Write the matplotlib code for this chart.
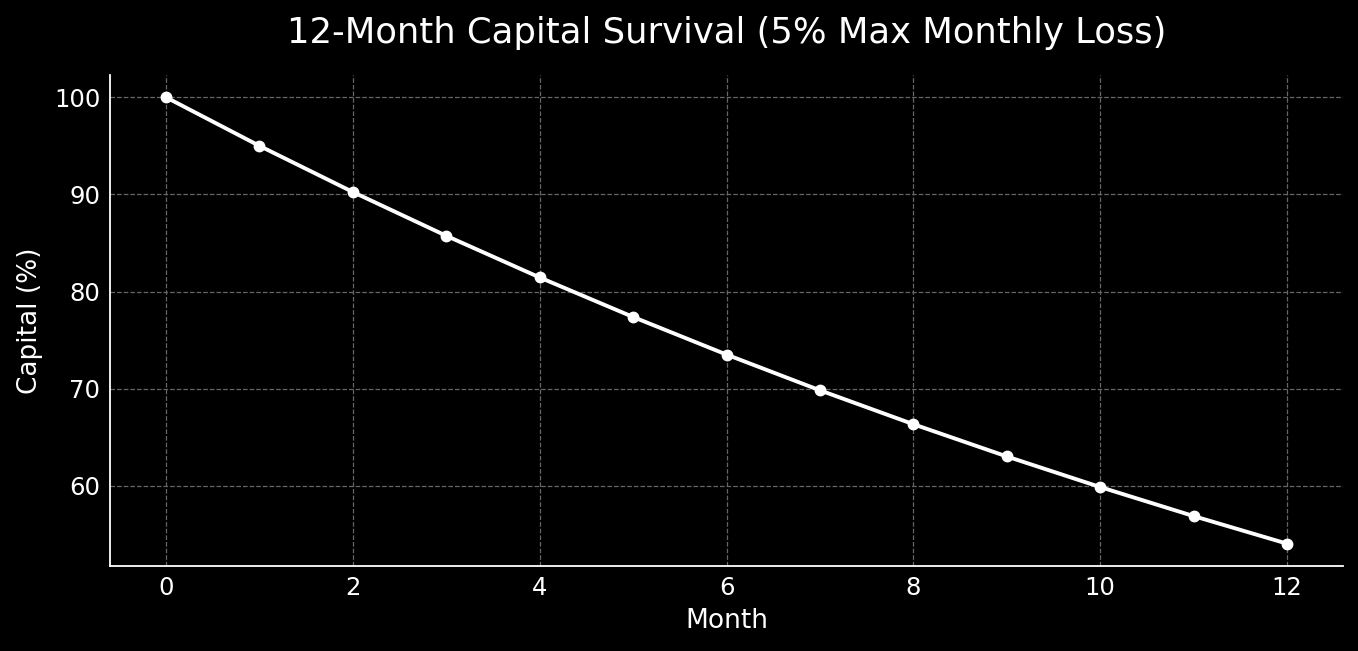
import matplotlib
matplotlib.use("Agg")
import matplotlib.pyplot as plt

months = [0, 1, 2, 3, 4, 5, 6, 7, 8, 9, 10, 11, 12]
capital = [100.0, 95.0, 90.25, 85.74, 81.45, 77.38, 73.51, 69.83, 66.34, 63.02, 59.87, 56.88, 54.04]

plt.style.use("dark_background")
fig = plt.figure(figsize=(13.58, 6.51), dpi=100)
ax = fig.add_axes([0.081, 0.1306, 0.908, 0.7542])
ax.plot(months, capital, color="white", linewidth=2.8, marker="o", markersize=7.5)
ax.set_title("12-Month Capital Survival (5% Max Monthly Loss)", fontsize=25.5, pad=23)
ax.set_xlabel("Month", fontsize=19, labelpad=6)
ax.set_ylabel("Capital (%)", fontsize=19, labelpad=8)
ax.tick_params(labelsize=17.5, length=0, pad=7)
ax.grid(True, linestyle="--", color="#666666", linewidth=0.9)
ax.spines["top"].set_visible(False)
ax.spines["right"].set_visible(False)
ax.spines["left"].set_linewidth(1.3)
ax.spines["bottom"].set_linewidth(1.3)
fig.savefig("out.png", dpi=100, facecolor="black")
